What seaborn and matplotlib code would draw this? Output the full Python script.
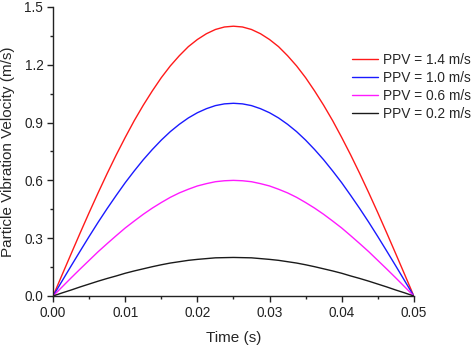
import numpy as np
import pandas as pd
import matplotlib
matplotlib.use("Agg")
import matplotlib.pyplot as plt
import seaborn as sns
from matplotlib.ticker import MultipleLocator, FormatStrFormatter

time = [0.00000, 0.00125, 0.00250, 0.00375, 0.00500, 0.00625, 0.00750, 0.00875,
        0.01000, 0.01125, 0.01250, 0.01375, 0.01500, 0.01625, 0.01750, 0.01875,
        0.02000, 0.02125, 0.02250, 0.02375, 0.02500, 0.02625, 0.02750, 0.02875,
        0.03000, 0.03125, 0.03250, 0.03375, 0.03500, 0.03625, 0.03750, 0.03875,
        0.04000, 0.04125, 0.04250, 0.04375, 0.04500, 0.04625, 0.04750, 0.04875, 0.05000]
ppv_14 = [0.000, 0.110, 0.219, 0.327, 0.433, 0.536, 0.636, 0.732, 0.823, 0.910,
          0.990, 1.064, 1.133, 1.194, 1.247, 1.294, 1.331, 1.361, 1.383, 1.396,
          1.400, 1.396, 1.383, 1.361, 1.331, 1.294, 1.247, 1.194, 1.133, 1.064,
          0.990, 0.910, 0.823, 0.732, 0.636, 0.536, 0.433, 0.327, 0.219, 0.110, 0.000]
ppv_10 = [0.000, 0.078, 0.156, 0.233, 0.309, 0.383, 0.454, 0.522, 0.588, 0.649,
          0.707, 0.760, 0.809, 0.853, 0.891, 0.924, 0.951, 0.972, 0.988, 0.997,
          1.000, 0.997, 0.988, 0.972, 0.951, 0.924, 0.891, 0.853, 0.809, 0.760,
          0.707, 0.649, 0.588, 0.522, 0.454, 0.383, 0.309, 0.233, 0.156, 0.078, 0.000]
ppv_06 = [0.000, 0.047, 0.094, 0.140, 0.185, 0.230, 0.272, 0.313, 0.353, 0.389,
          0.424, 0.456, 0.485, 0.512, 0.535, 0.554, 0.571, 0.583, 0.593, 0.598,
          0.600, 0.598, 0.593, 0.583, 0.571, 0.554, 0.535, 0.512, 0.485, 0.456,
          0.424, 0.389, 0.353, 0.313, 0.272, 0.230, 0.185, 0.140, 0.094, 0.047, 0.000]
ppv_02 = [0.000, 0.016, 0.031, 0.047, 0.062, 0.077, 0.091, 0.104, 0.118, 0.130,
          0.141, 0.152, 0.162, 0.171, 0.178, 0.185, 0.190, 0.194, 0.198, 0.199,
          0.200, 0.199, 0.198, 0.194, 0.190, 0.185, 0.178, 0.171, 0.162, 0.152,
          0.141, 0.130, 0.118, 0.104, 0.091, 0.077, 0.062, 0.047, 0.031, 0.016, 0.000]
labels = ["PPV = 1.4 m/s", "PPV = 1.0 m/s", "PPV = 0.6 m/s", "PPV = 0.2 m/s"]
colors = ["#ff1a1a", "#1a1aff", "#ff1aff", "#1a1a1a"]

frames = []
for lab, vals in zip(labels, [ppv_14, ppv_10, ppv_06, ppv_02]):
    frames.append(pd.DataFrame({"Time": time, "V": vals, "Series": lab}))
df = pd.concat(frames, ignore_index=True)

sns.set_style("ticks")
plt.rcParams['font.family'] = ['Liberation Sans', 'DejaVu Sans']

fig = plt.figure(figsize=(4.74, 3.47), dpi=100)
ax = fig.add_axes([0.112, 0.147, 0.761, 0.833])
sns.lineplot(data=df, x="Time", y="V", hue="Series", hue_order=labels,
             palette=dict(zip(labels, colors)), linewidth=1.0, ax=ax)

ax.set_xlim(0, 0.05)
ax.set_ylim(0, 1.5)
ax.xaxis.set_major_locator(MultipleLocator(0.01))
ax.xaxis.set_minor_locator(MultipleLocator(0.005))
ax.yaxis.set_major_locator(MultipleLocator(0.3))
ax.yaxis.set_minor_locator(MultipleLocator(0.15))
ax.xaxis.set_major_formatter(FormatStrFormatter('%.2f'))
ax.yaxis.set_major_formatter(FormatStrFormatter('%.1f'))
ax.tick_params(which='major', direction='out', length=4, width=1, labelsize=9.8,
               colors='#222222', pad=3)
ax.tick_params(which='minor', direction='out', length=2.5, width=1, colors='#222222')
for s in ['top', 'right']:
    ax.spines[s].set_visible(False)
for s in ['left', 'bottom']:
    ax.spines[s].set_linewidth(1.0)
    ax.spines[s].set_color('#222222')
ax.set_xlabel("Time (s)", fontsize=11, labelpad=8)
ax.set_ylabel("Particle Vibration Velocity (m/s)", fontsize=11, labelpad=7)

leg = ax.legend(loc='upper left', bbox_to_anchor=(0.828, 0.84), frameon=False,
                fontsize=9.9, handlelength=1.9, handletextpad=0.4, labelspacing=0.28,
                borderaxespad=0, borderpad=0)
fig.savefig("out.png", dpi=100)
